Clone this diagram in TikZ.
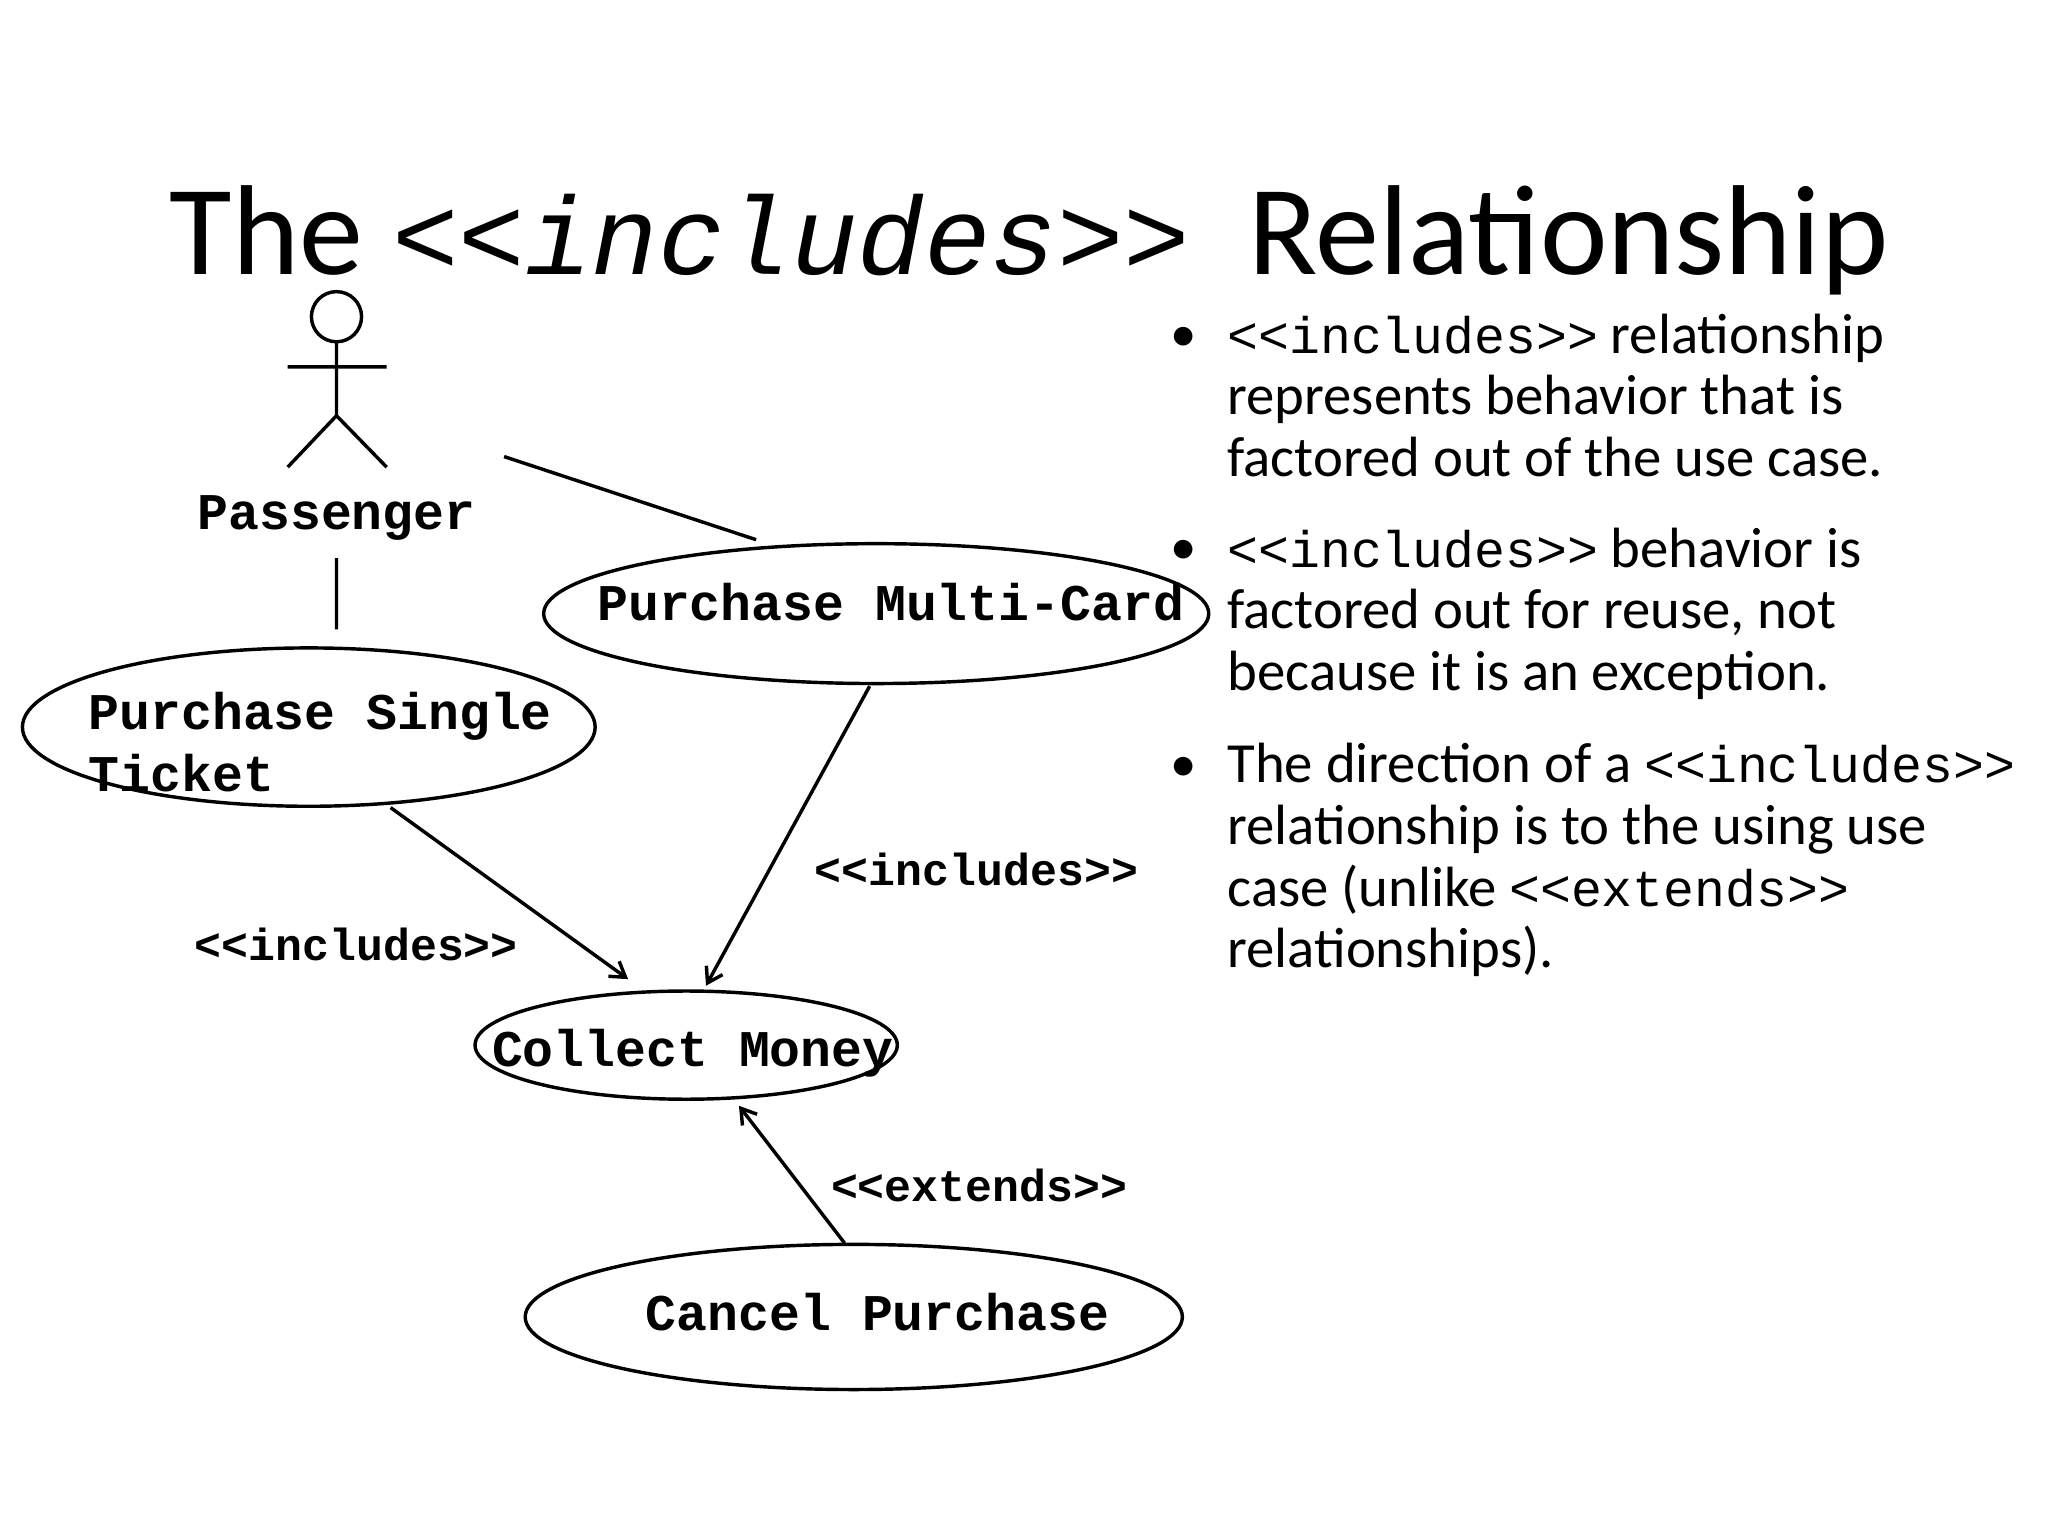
\documentclass[tikz,border=0pt]{standalone}
\usepackage{fontspec}
\setmainfont{Carlito}
\setmonofont{Liberation Mono}
\usetikzlibrary{arrows.meta}
\begin{document}
\begin{tikzpicture}[x=1pt,y=-1pt,
  uc/.style={draw,line width=2.6pt},
  lbl/.style={font=\fontsize{39}{42}\selectfont\ttfamily\bfseries,inner sep=0},
  rlbl/.style={inner sep=0,font=\fontsize{34}{36}\selectfont\ttfamily\bfseries},
  rel/.style={line width=2.6pt,-{Straight Barb[length=11pt,width=14pt]}},
  btxt/.style={anchor=base west,inner sep=0,font=\fontsize{43}{46}\selectfont},
  bul/.style={anchor=base,inner sep=0,font=\fontsize{40}{44}\selectfont}]
\useasboundingbox (0,0) rectangle (1552,1164);
\newcommand{\mc}[1]{{\fontsize{39}{42}\selectfont\ttfamily #1}}
\node[anchor=base,inner sep=0,font=\fontsize{97}{100}\selectfont] (title) at (780,208)
  {The {\fontsize{84}{90}\selectfont\ttfamily<<\textit{includes}>>}\ \ Relationship};
% actor
\draw[line width=2.6pt] (255,240) circle (19);
\coordinate (neck) at (255,259); \coordinate (hip) at (255,315);
\draw[line width=2.6pt] (neck)--(hip) (218,278)--(293,278) (218,354)--(hip)--(293,354);
\node[lbl,anchor=base] (pass) at (255,401) {Passenger};
% use cases
\draw[uc] (234,551) ellipse (217 and 60); \coordinate (pst) at (234,551);
\node[lbl,anchor=base west] (pst1) at (67,553) {Purchase Single};
\node[lbl,anchor=base west] (pst2) at (67,600) {Ticket};
\draw[uc] (664,465) ellipse (252 and 53);
\node[lbl,anchor=base] (pmc) at (675,470) {Purchase Multi-Card};
\draw[uc] (520,792) ellipse (160 and 41);
\node[lbl,anchor=base] (cm) at (525,808) {Collect Money};
\draw[uc] (647,998) ellipse (249 and 55);
\node[lbl,anchor=base] (cp) at (665,1008) {Cancel Purchase};
% connectors
\coordinate (a1) at (382,346); \coordinate (a2) at (573,409);
\coordinate (b1) at (255,423); \coordinate (b2) at (255,477);
\draw[line width=2.6pt] (a1)--(a2) (b1)--(b2);
\coordinate (s1) at (296,612); \coordinate (e1) at (476,742);
\coordinate (s2) at (659,520); \coordinate (e2) at (535,747);
\coordinate (s3) at (640,942); \coordinate (e3) at (560,838);
\draw[rel] (s1)--(e1); \draw[rel] (s2)--(e2); \draw[rel] (s3)--(e3);
\node[rlbl] (l1) at (270,716) {<<includes>>};
\node[rlbl] (l2) at (740,659) {<<includes>>};
\node[rlbl] (l3) at (742,898) {<<extends>>};
% bullets
\node[bul] (d1) at (897,266) {•};
\node[btxt] (t11) at (930,268) {\mc{<<includes>>} relationship};
\node[btxt] (t12) at (930,314) {represents behavior that is};
\node[btxt] (t13) at (930,361) {factored out of the use case.};
\node[bul] (d2) at (897,428) {•};
\node[btxt] (t21) at (930,430) {\mc{<<includes>>} behavior is};
\node[btxt] (t22) at (930,476) {factored out for reuse, not};
\node[btxt] (t23) at (930,523) {because it is an exception.};
\node[bul] (d3) at (897,592) {•};
\node[btxt] (t31) at (930,593) {The direction of a \mc{<<includes>>}};
\node[btxt] (t32) at (930,640) {relationship is to the using use};
\node[btxt] (t33) at (930,687) {case (unlike \mc{<<extends>>}};
\node[btxt] (t34) at (930,733) {relationships).};
\end{tikzpicture}
\end{document}
